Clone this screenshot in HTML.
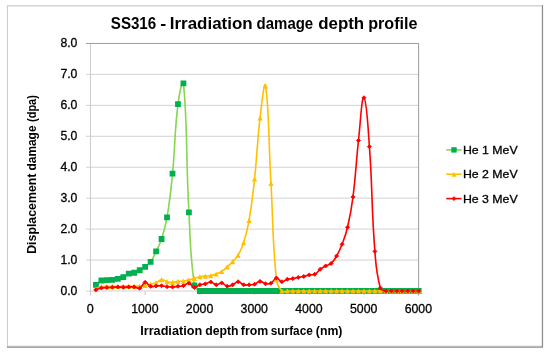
<!DOCTYPE html>
<html lang="en"><head><meta charset="utf-8"><title>SS316 - Irradiation damage depth profile</title>
<style>html,body{margin:0;padding:0;background:#fff;width:550px;height:355px;overflow:hidden}svg{display:block}text{font-family:"Liberation Sans",sans-serif;fill:#000;stroke:#000;stroke-width:.3px}text[font-weight=bold]{stroke:none}</style>
</head><body>
<svg width="550" height="355" viewBox="0 0 550 355">
<rect width="550" height="355" fill="#fff"/>
<path d="M7 5.8H542.5" fill="none" stroke="#d4d4d4" stroke-width="1.4"/>
<path d="M7.45 5.2V347.2" fill="none" stroke="#cfcfcf" stroke-width="1.1"/>
<path d="M7 346.1H542" fill="none" stroke="#d4d4d4" stroke-width="0.9"/>
<path d="M7 347.05H542.45V5.3" fill="none" stroke="#8c8c8c" stroke-width="1.25"/>
<path d="M86.00 291.00H418.65M86.00 260.06H418.65M86.00 229.11H418.65M86.00 198.17H418.65M86.00 167.22H418.65M86.00 136.28H418.65M86.00 105.34H418.65M86.00 74.39H418.65" fill="none" stroke="#d2d2d2" stroke-width="1"/>
<path d="M90.45 43.45V295.30M90.45 291.00V295.00M145.15 291.00V295.00M199.85 291.00V295.00M254.55 291.00V295.00M309.25 291.00V295.00M363.95 291.00V295.00M418.65 291.00V295.00" fill="none" stroke="#cacaca" stroke-width="1"/>
<path d="M86 43.45H418.6V295.5" fill="none" stroke="#9c9c9c" stroke-width="1"/>
<path d="M95.92 284.81C95.92 284.81 98.63 281.65 101.39 280.48C103.56 279.56 104.40 280.31 106.86 280.17C109.32 280.03 109.88 280.14 112.33 279.86C114.81 279.58 115.39 279.55 117.80 278.93C120.31 278.29 120.94 278.19 123.27 277.08C125.87 275.83 126.09 274.72 128.74 273.67C131.02 272.77 131.85 273.48 134.21 272.74C136.77 271.95 137.31 271.54 139.68 270.27C142.23 268.90 142.86 268.62 145.15 266.86C147.78 264.86 148.73 264.58 150.62 261.91C153.65 257.62 153.79 256.20 156.09 251.39C158.71 245.90 159.70 244.79 161.56 239.01C164.63 229.48 165.37 227.25 167.03 217.35C170.29 197.87 170.60 193.41 172.50 173.72C175.52 142.45 174.20 135.21 177.97 104.10C179.13 94.55 182.74 76.43 183.44 83.37C187.66 125.16 185.77 154.38 188.91 212.40C190.69 245.31 189.93 253.47 194.38 285.43C194.85 288.84 196.96 289.53 199.85 291.00C201.88 292.03 202.86 291.00 205.32 291.00C207.78 291.00 208.33 291.00 210.79 291.00C213.25 291.00 213.80 291.00 216.26 291.00C218.72 291.00 219.27 291.00 221.73 291.00C224.19 291.00 224.74 291.00 227.20 291.00C229.66 291.00 230.21 291.00 232.67 291.00C235.13 291.00 235.68 291.00 238.14 291.00C240.60 291.00 241.15 291.00 243.61 291.00C246.07 291.00 246.62 291.00 249.08 291.00C251.54 291.00 252.09 291.00 254.55 291.00C257.01 291.00 257.56 291.00 260.02 291.00C262.48 291.00 263.03 291.00 265.49 291.00C267.95 291.00 268.50 291.00 270.96 291.00C273.42 291.00 273.97 291.00 276.43 291.00C278.89 291.00 279.44 291.00 281.90 291.00C284.36 291.00 284.91 291.00 287.37 291.00C289.83 291.00 290.38 291.00 292.84 291.00C295.30 291.00 295.85 291.00 298.31 291.00C300.77 291.00 301.32 291.00 303.78 291.00C306.24 291.00 306.79 291.00 309.25 291.00C311.71 291.00 312.26 291.00 314.72 291.00C317.18 291.00 317.73 291.00 320.19 291.00C322.65 291.00 323.20 291.00 325.66 291.00C328.12 291.00 328.67 291.00 331.13 291.00C333.59 291.00 334.14 291.00 336.60 291.00C339.06 291.00 339.61 291.00 342.07 291.00C344.53 291.00 345.08 291.00 347.54 291.00C350.00 291.00 350.55 291.00 353.01 291.00C355.47 291.00 356.02 291.00 358.48 291.00C360.94 291.00 361.49 291.00 363.95 291.00C366.41 291.00 366.96 291.00 369.42 291.00C371.88 291.00 372.43 291.00 374.89 291.00C377.35 291.00 377.90 291.00 380.36 291.00C382.82 291.00 383.37 291.00 385.83 291.00C388.29 291.00 388.84 291.00 391.30 291.00C393.76 291.00 394.31 291.00 396.77 291.00C399.23 291.00 399.78 291.00 402.24 291.00C404.70 291.00 405.25 291.00 407.71 291.00C410.17 291.00 410.72 291.00 413.18 291.00C415.64 291.00 418.65 291.00 418.65 291.00" fill="none" stroke="#86d64f" stroke-width="1.6" stroke-linejoin="round"/>
<path d="M93.02 281.91h5.80v5.80h-5.80zM98.49 277.58h5.80v5.80h-5.80zM103.96 277.27h5.80v5.80h-5.80zM109.43 276.96h5.80v5.80h-5.80zM114.90 276.03h5.80v5.80h-5.80zM120.37 274.18h5.80v5.80h-5.80zM125.84 270.77h5.80v5.80h-5.80zM131.31 269.84h5.80v5.80h-5.80zM136.78 267.37h5.80v5.80h-5.80zM142.25 263.96h5.80v5.80h-5.80zM147.72 259.01h5.80v5.80h-5.80zM153.19 248.49h5.80v5.80h-5.80zM158.66 236.11h5.80v5.80h-5.80zM164.13 214.45h5.80v5.80h-5.80zM169.60 170.82h5.80v5.80h-5.80zM175.07 101.20h5.80v5.80h-5.80zM180.54 80.47h5.80v5.80h-5.80zM186.01 209.50h5.80v5.80h-5.80zM191.48 282.53h5.80v5.80h-5.80zM196.95 288.10h5.80v5.80h-5.80zM202.42 288.10h5.80v5.80h-5.80zM207.89 288.10h5.80v5.80h-5.80zM213.36 288.10h5.80v5.80h-5.80zM218.83 288.10h5.80v5.80h-5.80zM224.30 288.10h5.80v5.80h-5.80zM229.77 288.10h5.80v5.80h-5.80zM235.24 288.10h5.80v5.80h-5.80zM240.71 288.10h5.80v5.80h-5.80zM246.18 288.10h5.80v5.80h-5.80zM251.65 288.10h5.80v5.80h-5.80zM257.12 288.10h5.80v5.80h-5.80zM262.59 288.10h5.80v5.80h-5.80zM268.06 288.10h5.80v5.80h-5.80zM273.53 288.10h5.80v5.80h-5.80zM279.00 288.10h5.80v5.80h-5.80zM284.47 288.10h5.80v5.80h-5.80zM289.94 288.10h5.80v5.80h-5.80zM295.41 288.10h5.80v5.80h-5.80zM300.88 288.10h5.80v5.80h-5.80zM306.35 288.10h5.80v5.80h-5.80zM311.82 288.10h5.80v5.80h-5.80zM317.29 288.10h5.80v5.80h-5.80zM322.76 288.10h5.80v5.80h-5.80zM328.23 288.10h5.80v5.80h-5.80zM333.70 288.10h5.80v5.80h-5.80zM339.17 288.10h5.80v5.80h-5.80zM344.64 288.10h5.80v5.80h-5.80zM350.11 288.10h5.80v5.80h-5.80zM355.58 288.10h5.80v5.80h-5.80zM361.05 288.10h5.80v5.80h-5.80zM366.52 288.10h5.80v5.80h-5.80zM371.99 288.10h5.80v5.80h-5.80zM377.46 288.10h5.80v5.80h-5.80zM382.93 288.10h5.80v5.80h-5.80zM388.40 288.10h5.80v5.80h-5.80zM393.87 288.10h5.80v5.80h-5.80zM399.34 288.10h5.80v5.80h-5.80zM404.81 288.10h5.80v5.80h-5.80zM410.28 288.10h5.80v5.80h-5.80zM415.75 288.10h5.80v5.80h-5.80z" fill="#00b050"/>
<path d="M95.92 288.83C95.92 288.83 98.84 287.24 101.39 286.67C103.76 286.13 104.40 286.43 106.86 286.36C109.32 286.29 109.87 286.36 112.33 286.36C114.79 286.36 115.34 286.43 117.80 286.36C120.26 286.29 120.81 286.12 123.27 286.05C125.73 285.98 126.28 286.05 128.74 286.05C131.20 286.05 131.75 286.05 134.21 286.05C136.67 286.05 137.23 286.19 139.68 286.05C142.15 285.91 142.71 285.84 145.15 285.43C147.63 285.01 148.18 284.81 150.62 284.19C153.10 283.56 153.75 283.64 156.09 282.65C158.67 281.55 159.02 279.77 161.56 279.55C163.94 279.35 164.49 281.07 167.03 281.72C169.41 282.32 170.05 282.41 172.50 282.34C174.97 282.27 175.49 281.69 177.97 281.41C180.42 281.13 181.01 281.44 183.44 281.10C185.93 280.75 186.47 280.48 188.91 279.86C191.39 279.23 191.92 279.01 194.38 278.31C196.84 277.62 197.35 277.26 199.85 276.77C202.27 276.29 202.86 276.43 205.32 276.15C207.78 275.87 208.37 276.01 210.79 275.53C213.29 275.03 213.87 274.86 216.26 273.98C218.79 273.05 219.49 272.96 221.73 271.51C224.41 269.76 224.81 269.03 227.20 266.86C229.73 264.57 230.35 264.10 232.67 261.60C235.27 258.81 236.24 258.38 238.14 255.11C241.16 249.89 241.78 248.51 243.61 242.73C246.71 232.92 247.34 230.61 249.08 220.45C252.26 201.92 252.55 197.69 254.55 178.98C257.47 151.60 256.81 145.36 260.02 118.02C261.73 103.45 264.26 78.48 265.49 85.84C269.18 107.86 268.48 139.45 270.96 183.32C273.41 226.62 272.08 236.73 276.43 279.55C277.00 285.19 278.46 287.40 281.90 291.00C283.38 292.55 284.91 291.00 287.37 291.00C289.83 291.00 290.38 291.00 292.84 291.00C295.30 291.00 295.85 291.00 298.31 291.00C300.77 291.00 301.32 291.00 303.78 291.00C306.24 291.00 306.79 291.00 309.25 291.00C311.71 291.00 312.26 291.00 314.72 291.00C317.18 291.00 317.73 291.00 320.19 291.00C322.65 291.00 323.20 291.00 325.66 291.00C328.12 291.00 328.67 291.00 331.13 291.00C333.59 291.00 334.14 291.00 336.60 291.00C339.06 291.00 339.61 291.00 342.07 291.00C344.53 291.00 345.08 291.00 347.54 291.00C350.00 291.00 350.55 291.00 353.01 291.00C355.47 291.00 356.02 291.00 358.48 291.00C360.94 291.00 361.49 291.00 363.95 291.00C366.41 291.00 366.96 291.00 369.42 291.00C371.88 291.00 372.43 291.00 374.89 291.00C377.35 291.00 377.90 291.00 380.36 291.00C382.82 291.00 383.37 291.00 385.83 291.00C388.29 291.00 388.84 291.00 391.30 291.00C393.76 291.00 394.31 291.00 396.77 291.00C399.23 291.00 399.78 291.00 402.24 291.00C404.70 291.00 405.25 291.00 407.71 291.00C410.17 291.00 410.72 291.00 413.18 291.00C415.64 291.00 418.65 291.00 418.65 291.00" fill="none" stroke="#ffc000" stroke-width="1.6" stroke-linejoin="round"/>
<path d="M95.92 286.23l2.60 5.20h-5.20zM101.39 284.07l2.60 5.20h-5.20zM106.86 283.76l2.60 5.20h-5.20zM112.33 283.76l2.60 5.20h-5.20zM117.80 283.76l2.60 5.20h-5.20zM123.27 283.45l2.60 5.20h-5.20zM128.74 283.45l2.60 5.20h-5.20zM134.21 283.45l2.60 5.20h-5.20zM139.68 283.45l2.60 5.20h-5.20zM145.15 282.83l2.60 5.20h-5.20zM150.62 281.59l2.60 5.20h-5.20zM156.09 280.05l2.60 5.20h-5.20zM161.56 276.95l2.60 5.20h-5.20zM167.03 279.12l2.60 5.20h-5.20zM172.50 279.74l2.60 5.20h-5.20zM177.97 278.81l2.60 5.20h-5.20zM183.44 278.50l2.60 5.20h-5.20zM188.91 277.26l2.60 5.20h-5.20zM194.38 275.71l2.60 5.20h-5.20zM199.85 274.17l2.60 5.20h-5.20zM205.32 273.55l2.60 5.20h-5.20zM210.79 272.93l2.60 5.20h-5.20zM216.26 271.38l2.60 5.20h-5.20zM221.73 268.91l2.60 5.20h-5.20zM227.20 264.26l2.60 5.20h-5.20zM232.67 259.00l2.60 5.20h-5.20zM238.14 252.51l2.60 5.20h-5.20zM243.61 240.13l2.60 5.20h-5.20zM249.08 217.85l2.60 5.20h-5.20zM254.55 176.38l2.60 5.20h-5.20zM260.02 115.42l2.60 5.20h-5.20zM265.49 83.24l2.60 5.20h-5.20zM270.96 180.72l2.60 5.20h-5.20zM276.43 276.95l2.60 5.20h-5.20zM281.90 288.40l2.60 5.20h-5.20zM287.37 288.40l2.60 5.20h-5.20zM292.84 288.40l2.60 5.20h-5.20zM298.31 288.40l2.60 5.20h-5.20zM303.78 288.40l2.60 5.20h-5.20zM309.25 288.40l2.60 5.20h-5.20zM314.72 288.40l2.60 5.20h-5.20zM320.19 288.40l2.60 5.20h-5.20zM325.66 288.40l2.60 5.20h-5.20zM331.13 288.40l2.60 5.20h-5.20zM336.60 288.40l2.60 5.20h-5.20zM342.07 288.40l2.60 5.20h-5.20zM347.54 288.40l2.60 5.20h-5.20zM353.01 288.40l2.60 5.20h-5.20zM358.48 288.40l2.60 5.20h-5.20zM363.95 288.40l2.60 5.20h-5.20zM369.42 288.40l2.60 5.20h-5.20zM374.89 288.40l2.60 5.20h-5.20zM380.36 288.40l2.60 5.20h-5.20zM385.83 288.40l2.60 5.20h-5.20zM391.30 288.40l2.60 5.20h-5.20zM396.77 288.40l2.60 5.20h-5.20zM402.24 288.40l2.60 5.20h-5.20zM407.71 288.40l2.60 5.20h-5.20zM413.18 288.40l2.60 5.20h-5.20zM418.65 288.40l2.60 5.20h-5.20z" fill="#ffc000"/>
<path d="M95.92 289.76C95.92 289.76 98.86 288.41 101.39 287.91C103.79 287.43 104.40 287.74 106.86 287.60C109.32 287.46 109.87 287.43 112.33 287.29C114.79 287.15 115.34 286.98 117.80 286.98C120.26 286.98 120.81 287.29 123.27 287.29C125.73 287.29 126.28 287.05 128.74 286.98C131.20 286.91 131.78 286.70 134.21 286.98C136.70 287.26 137.66 289.07 139.68 288.22C142.58 286.99 142.48 282.79 145.15 282.34C147.41 281.95 147.90 285.43 150.62 286.36C152.82 287.10 153.63 286.19 156.09 286.05C158.55 285.91 159.11 285.60 161.56 285.74C164.04 285.88 164.55 286.39 167.03 286.67C169.48 286.94 170.04 287.05 172.50 286.98C174.97 286.91 175.51 286.64 177.97 286.36C180.43 286.08 181.09 286.41 183.44 285.74C186.01 285.01 186.63 282.88 188.91 283.26C191.56 283.71 191.76 287.23 194.38 287.60C196.68 287.92 197.26 285.69 199.85 284.81C202.19 284.02 202.91 284.50 205.32 283.88C207.83 283.24 208.40 281.82 210.79 282.03C213.33 282.24 213.72 284.60 216.26 284.81C218.65 285.01 219.39 282.66 221.73 282.95C224.31 283.28 224.59 285.76 227.20 286.20C229.51 286.60 230.34 285.77 232.67 284.81C235.26 283.75 235.68 281.72 238.14 281.72C240.60 281.72 240.98 284.07 243.61 284.81C245.90 285.46 246.63 284.95 249.08 284.81C251.55 284.67 252.22 284.92 254.55 284.19C257.15 283.38 257.52 281.51 260.02 281.41C262.44 281.30 262.93 283.29 265.49 283.73C267.85 284.13 268.89 284.35 270.96 283.26C273.82 281.77 273.80 278.38 276.43 278.00C278.72 277.68 279.32 281.42 281.90 281.72C284.24 281.98 284.80 279.97 287.37 279.24C289.72 278.58 290.40 279.04 292.84 278.62C295.32 278.20 295.84 277.87 298.31 277.38C300.76 276.90 301.35 277.01 303.78 276.46C306.27 275.89 306.75 275.40 309.25 274.91C311.67 274.43 312.62 275.36 314.72 274.29C317.54 272.85 317.56 271.35 320.19 269.34C322.48 267.59 323.11 267.31 325.66 265.94C328.03 264.66 329.19 265.22 331.13 263.46C334.11 260.76 334.55 259.62 336.60 256.03C339.48 250.99 340.00 249.72 342.07 244.27C344.92 236.77 345.73 235.08 347.54 227.26C350.66 213.77 351.28 210.68 353.01 196.93C356.20 171.62 355.68 165.83 358.48 140.46C360.60 121.20 361.65 96.46 363.95 97.76C366.58 99.24 367.85 124.57 369.42 146.65C372.77 193.71 371.25 204.38 374.89 251.39C376.17 267.94 376.15 272.67 380.36 287.91C381.08 290.50 385.83 291.00 385.83 291.00" fill="none" stroke="#ff0000" stroke-width="1.6" stroke-linejoin="round"/>
<path d="M385.83 291.00H418.65" fill="none" stroke="#ff0000" stroke-width="0.9"/>
<path d="M95.92 287.76l2.00 2.00l-2.00 2.00l-2.00 -2.00zM101.39 285.91l2.00 2.00l-2.00 2.00l-2.00 -2.00zM106.86 285.60l2.00 2.00l-2.00 2.00l-2.00 -2.00zM112.33 285.29l2.00 2.00l-2.00 2.00l-2.00 -2.00zM117.80 284.98l2.00 2.00l-2.00 2.00l-2.00 -2.00zM123.27 285.29l2.00 2.00l-2.00 2.00l-2.00 -2.00zM128.74 284.98l2.00 2.00l-2.00 2.00l-2.00 -2.00zM134.21 284.98l2.00 2.00l-2.00 2.00l-2.00 -2.00zM139.68 286.22l2.00 2.00l-2.00 2.00l-2.00 -2.00zM145.15 280.34l2.00 2.00l-2.00 2.00l-2.00 -2.00zM150.62 284.36l2.00 2.00l-2.00 2.00l-2.00 -2.00zM156.09 284.05l2.00 2.00l-2.00 2.00l-2.00 -2.00zM161.56 283.74l2.00 2.00l-2.00 2.00l-2.00 -2.00zM167.03 284.67l2.00 2.00l-2.00 2.00l-2.00 -2.00zM172.50 284.98l2.00 2.00l-2.00 2.00l-2.00 -2.00zM177.97 284.36l2.00 2.00l-2.00 2.00l-2.00 -2.00zM183.44 283.74l2.00 2.00l-2.00 2.00l-2.00 -2.00zM188.91 281.26l2.00 2.00l-2.00 2.00l-2.00 -2.00zM194.38 285.60l2.00 2.00l-2.00 2.00l-2.00 -2.00zM199.85 282.81l2.00 2.00l-2.00 2.00l-2.00 -2.00zM205.32 281.88l2.00 2.00l-2.00 2.00l-2.00 -2.00zM210.79 280.03l2.00 2.00l-2.00 2.00l-2.00 -2.00zM216.26 282.81l2.00 2.00l-2.00 2.00l-2.00 -2.00zM221.73 280.95l2.00 2.00l-2.00 2.00l-2.00 -2.00zM227.20 284.20l2.00 2.00l-2.00 2.00l-2.00 -2.00zM232.67 282.81l2.00 2.00l-2.00 2.00l-2.00 -2.00zM238.14 279.72l2.00 2.00l-2.00 2.00l-2.00 -2.00zM243.61 282.81l2.00 2.00l-2.00 2.00l-2.00 -2.00zM249.08 282.81l2.00 2.00l-2.00 2.00l-2.00 -2.00zM254.55 282.19l2.00 2.00l-2.00 2.00l-2.00 -2.00zM260.02 279.41l2.00 2.00l-2.00 2.00l-2.00 -2.00zM265.49 281.73l2.00 2.00l-2.00 2.00l-2.00 -2.00zM270.96 281.26l2.00 2.00l-2.00 2.00l-2.00 -2.00zM276.43 276.00l2.00 2.00l-2.00 2.00l-2.00 -2.00zM281.90 279.72l2.00 2.00l-2.00 2.00l-2.00 -2.00zM287.37 277.24l2.00 2.00l-2.00 2.00l-2.00 -2.00zM292.84 276.62l2.00 2.00l-2.00 2.00l-2.00 -2.00zM298.31 275.38l2.00 2.00l-2.00 2.00l-2.00 -2.00zM303.78 274.46l2.00 2.00l-2.00 2.00l-2.00 -2.00zM309.25 272.91l2.00 2.00l-2.00 2.00l-2.00 -2.00zM314.72 272.29l2.00 2.00l-2.00 2.00l-2.00 -2.00zM320.19 267.34l2.00 2.00l-2.00 2.00l-2.00 -2.00zM325.66 263.94l2.00 2.00l-2.00 2.00l-2.00 -2.00zM331.13 261.46l2.00 2.00l-2.00 2.00l-2.00 -2.00zM336.60 254.03l2.00 2.00l-2.00 2.00l-2.00 -2.00zM342.07 242.27l2.00 2.00l-2.00 2.00l-2.00 -2.00zM347.54 225.26l2.00 2.00l-2.00 2.00l-2.00 -2.00zM353.01 194.93l2.00 2.00l-2.00 2.00l-2.00 -2.00zM358.48 138.46l2.00 2.00l-2.00 2.00l-2.00 -2.00zM363.95 95.76l2.00 2.00l-2.00 2.00l-2.00 -2.00zM369.42 144.65l2.00 2.00l-2.00 2.00l-2.00 -2.00zM374.89 249.39l2.00 2.00l-2.00 2.00l-2.00 -2.00zM380.36 285.91l2.00 2.00l-2.00 2.00l-2.00 -2.00zM385.83 289.00l2.00 2.00l-2.00 2.00l-2.00 -2.00zM391.30 289.00l2.00 2.00l-2.00 2.00l-2.00 -2.00zM396.77 289.00l2.00 2.00l-2.00 2.00l-2.00 -2.00zM402.24 289.00l2.00 2.00l-2.00 2.00l-2.00 -2.00zM407.71 289.00l2.00 2.00l-2.00 2.00l-2.00 -2.00zM413.18 289.00l2.00 2.00l-2.00 2.00l-2.00 -2.00zM418.65 289.00l2.00 2.00l-2.00 2.00l-2.00 -2.00z" fill="#ff0000" stroke="#ff0000" stroke-width="0.9" stroke-linejoin="round"/>
<text y="28.9" font-size="15.8" font-weight="bold"><tspan x="110.80" textLength="45.40" lengthAdjust="spacingAndGlyphs">SS316</tspan> <tspan x="160.20" textLength="6.00" lengthAdjust="spacingAndGlyphs">-</tspan> <tspan x="169.80" textLength="82.80" lengthAdjust="spacingAndGlyphs">Irradiation</tspan> <tspan x="256.60" textLength="56.60" lengthAdjust="spacingAndGlyphs">damage</tspan> <tspan x="318.20" textLength="46.00" lengthAdjust="spacingAndGlyphs">depth</tspan> <tspan x="368.20" textLength="49.30" lengthAdjust="spacingAndGlyphs">profile</tspan></text>
<text x="77.4" y="294.90" font-size="12.8" text-anchor="end" textLength="17.0" lengthAdjust="spacingAndGlyphs">0.0</text>
<text x="77.4" y="263.96" font-size="12.8" text-anchor="end" textLength="17.0" lengthAdjust="spacingAndGlyphs">1.0</text>
<text x="77.4" y="233.01" font-size="12.8" text-anchor="end" textLength="17.0" lengthAdjust="spacingAndGlyphs">2.0</text>
<text x="77.4" y="202.07" font-size="12.8" text-anchor="end" textLength="17.0" lengthAdjust="spacingAndGlyphs">3.0</text>
<text x="77.4" y="171.12" font-size="12.8" text-anchor="end" textLength="17.0" lengthAdjust="spacingAndGlyphs">4.0</text>
<text x="77.4" y="140.18" font-size="12.8" text-anchor="end" textLength="17.0" lengthAdjust="spacingAndGlyphs">5.0</text>
<text x="77.4" y="109.24" font-size="12.8" text-anchor="end" textLength="17.0" lengthAdjust="spacingAndGlyphs">6.0</text>
<text x="77.4" y="78.29" font-size="12.8" text-anchor="end" textLength="17.0" lengthAdjust="spacingAndGlyphs">7.0</text>
<text x="77.4" y="47.35" font-size="12.8" text-anchor="end" textLength="17.0" lengthAdjust="spacingAndGlyphs">8.0</text>
<text x="90.15" y="313.4" font-size="12.8" text-anchor="middle" textLength="7.0" lengthAdjust="spacingAndGlyphs">0</text>
<text x="144.85" y="313.4" font-size="12.8" text-anchor="middle" textLength="27.4" lengthAdjust="spacingAndGlyphs">1000</text>
<text x="199.55" y="313.4" font-size="12.8" text-anchor="middle" textLength="27.4" lengthAdjust="spacingAndGlyphs">2000</text>
<text x="254.25" y="313.4" font-size="12.8" text-anchor="middle" textLength="27.4" lengthAdjust="spacingAndGlyphs">3000</text>
<text x="308.95" y="313.4" font-size="12.8" text-anchor="middle" textLength="27.4" lengthAdjust="spacingAndGlyphs">4000</text>
<text x="363.65" y="313.4" font-size="12.8" text-anchor="middle" textLength="27.4" lengthAdjust="spacingAndGlyphs">5000</text>
<text x="418.35" y="313.4" font-size="12.8" text-anchor="middle" textLength="27.4" lengthAdjust="spacingAndGlyphs">6000</text>
<text y="334.8" font-size="12" font-weight="bold"><tspan x="140.20" textLength="62.00" lengthAdjust="spacingAndGlyphs">Irradiation</tspan> <tspan x="205.20" textLength="33.40" lengthAdjust="spacingAndGlyphs">depth</tspan> <tspan x="240.80" textLength="27.40" lengthAdjust="spacingAndGlyphs">from</tspan> <tspan x="270.80" textLength="42.00" lengthAdjust="spacingAndGlyphs">surface</tspan> <tspan x="315.80" textLength="26.60" lengthAdjust="spacingAndGlyphs">(nm)</tspan></text>
<text transform="rotate(-90)" y="36.0" font-size="12.2" font-weight="bold"><tspan x="-253.80" textLength="80.20" lengthAdjust="spacingAndGlyphs">Displacement</tspan> <tspan x="-170.50" textLength="45.00" lengthAdjust="spacingAndGlyphs">damage</tspan> <tspan x="-121.90" textLength="26.70" lengthAdjust="spacingAndGlyphs">(dpa)</tspan></text>
<path d="M446.3 149.9H461.6" stroke="#86d64f" stroke-width="1.6"/>
<path d="M451.30 147.20h5.40v5.40h-5.40z" fill="#00b050"/>
<path d="M446.3 174.2H461.6" stroke="#ffc000" stroke-width="1.6"/>
<path d="M454.00 171.70l2.50 5.00h-5.00z" fill="#ffc000"/>
<path d="M446.3 198.6H461.6" stroke="#ff0000" stroke-width="1.6"/>
<path d="M454.00 196.70l1.90 1.90l-1.90 1.90l-1.90 -1.90z" fill="#ff0000" stroke="#ff0000" stroke-width="0.9" stroke-linejoin="round"/>
<text x="462.9" y="154.1" font-size="11.8" textLength="54.8" lengthAdjust="spacingAndGlyphs">He 1 MeV</text>
<text x="462.9" y="178.4" font-size="11.8" textLength="54.8" lengthAdjust="spacingAndGlyphs">He 2 MeV</text>
<text x="462.9" y="202.8" font-size="11.8" textLength="54.8" lengthAdjust="spacingAndGlyphs">He 3 MeV</text>
</svg>
</body></html>
